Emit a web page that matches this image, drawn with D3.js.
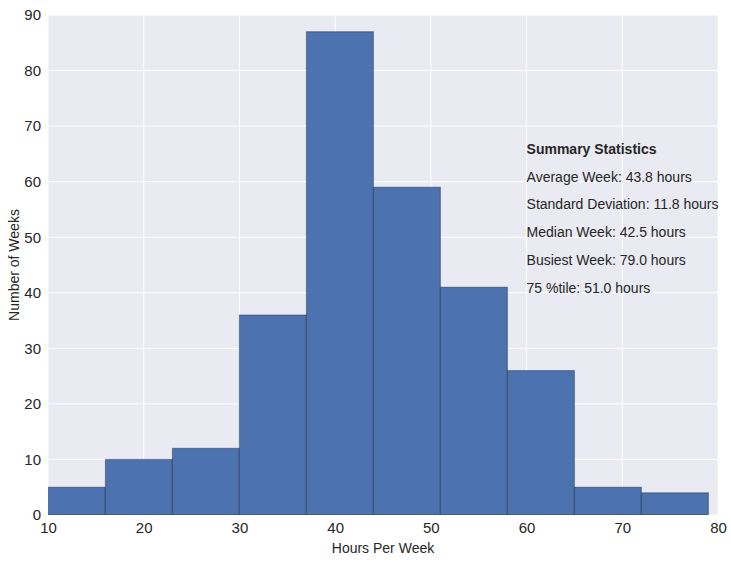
<!DOCTYPE html>
<html>
<head>
<meta charset="utf-8">
<script src="https://cdn.jsdelivr.net/npm/d3@7"></script>
<style>
  body { margin: 0; background: #fff; }
  svg text { font-family: "Liberation Sans", Arial, sans-serif; fill: #262626; }
</style>
</head>
<body>
<div id="chart"></div>
<script>
// histogram bin edges (hours) and counts (weeks)
const binEdges = [9, 16, 23, 30, 37, 44, 51, 58, 65, 72, 79];
const binCounts = [5, 10, 12, 36, 87, 59, 41, 26, 5, 4];

const xTicks = [10, 20, 30, 40, 50, 60, 70, 80];
const yTicks = [0, 10, 20, 30, 40, 50, 60, 70, 80, 90];

const statsTitle = "Summary Statistics";
const statsLines = [
  "Average Week: 43.8 hours",
  "Standard Deviation: 11.8 hours",
  "Median Week: 42.5 hours",
  "Busiest Week: 79.0 hours",
  "75 %tile: 51.0 hours"
];
const statsYs = [65, 60, 55, 50, 45, 40];
const statsX = 60;

const margin = {top: 15, right: 13, bottom: 48, left: 48};
const width = 731 - margin.left - margin.right;
const height = 563 - margin.top - margin.bottom;

const svg = d3.select("#chart").append("svg")
  .attr("width", 731)
  .attr("height", 563);

const g = svg.append("g")
  .attr("transform", "translate(" + margin.left + "," + margin.top + ")");

const x = d3.scaleLinear().domain([10, 80]).range([0, width]);
const y = d3.scaleLinear().domain([0, 90]).range([height, 0]);

g.append("defs").append("clipPath").attr("id", "plot-clip")
  .append("rect").attr("width", width).attr("height", height);

g.append("rect")
  .attr("width", width)
  .attr("height", height)
  .attr("fill", "#EAEAF2");

// grid
g.append("g").selectAll("line").data(xTicks).join("line")
  .attr("x1", d => x(d)).attr("x2", d => x(d))
  .attr("y1", 0).attr("y2", height)
  .attr("stroke", "#fff").attr("stroke-width", 1);
g.append("g").selectAll("line").data(yTicks).join("line")
  .attr("x1", 0).attr("x2", width)
  .attr("y1", d => y(d)).attr("y2", d => y(d))
  .attr("stroke", "#fff").attr("stroke-width", 1);

// bars
const bars = binCounts.map((c, i) => ({x0: binEdges[i], x1: binEdges[i + 1], count: c}));
g.append("g").attr("clip-path", "url(#plot-clip)")
  .selectAll("rect").data(bars).join("rect")
  .attr("x", d => x(d.x0))
  .attr("width", d => x(d.x1) - x(d.x0))
  .attr("y", d => y(d.count))
  .attr("height", d => y(0) - y(d.count))
  .attr("fill", "#4C72B0")
  .attr("stroke", "rgba(0,0,0,0.3)")
  .attr("stroke-width", 1.2);

// axes
const xAxis = g.append("g")
  .attr("transform", "translate(0," + height + ")")
  .call(d3.axisBottom(x).tickValues(xTicks).tickSize(0).tickPadding(7));
const yAxis = g.append("g")
  .call(d3.axisLeft(y).tickValues(yTicks).tickSize(0).tickPadding(7));
[xAxis, yAxis].forEach(a => {
  a.select(".domain").remove();
  a.selectAll("text").attr("font-size", 15).attr("fill", "#262626")
    .attr("font-family", "Liberation Sans, Arial, sans-serif");
});

g.append("text")
  .attr("x", width / 2)
  .attr("y", height + 38)
  .attr("text-anchor", "middle")
  .attr("font-size", 14)
  .text("Hours Per Week");

g.append("text")
  .attr("transform", "translate(-29," + (height / 2) + ") rotate(-90)")
  .attr("text-anchor", "middle")
  .attr("font-size", 14)
  .text("Number of Weeks");

// summary statistics text
const stats = g.append("g");
stats.append("text")
  .attr("x", x(statsX))
  .attr("y", y(statsYs[0]))
  .attr("font-size", 14)
  .attr("font-weight", "bold")
  .text(statsTitle);
stats.selectAll("text.line").data(statsLines).join("text")
  .attr("class", "line")
  .attr("x", x(statsX))
  .attr("y", (d, i) => y(statsYs[i + 1]))
  .attr("font-size", 14)
  .text(d => d);
</script>
</body>
</html>
